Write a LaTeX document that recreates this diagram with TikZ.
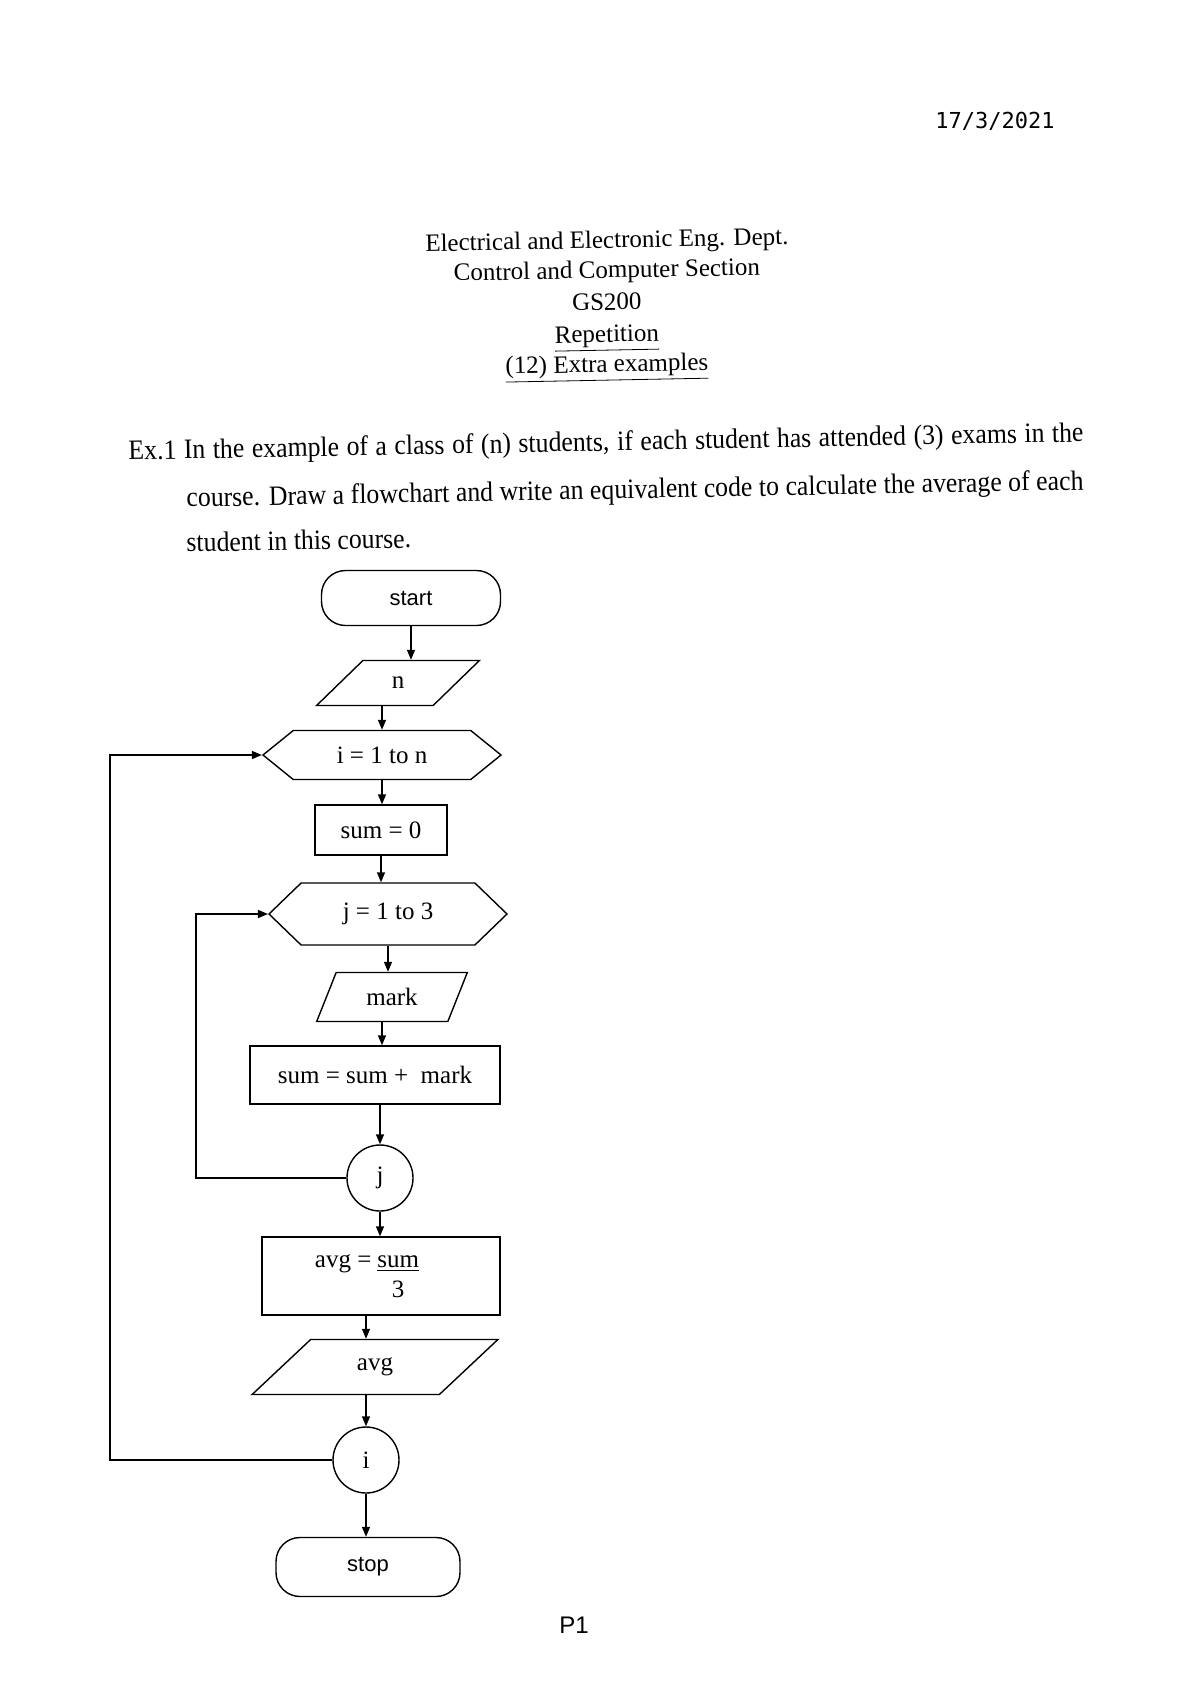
\documentclass[tikz,border=0pt]{standalone}
\usepackage{fontspec}
\setmainfont{Liberation Serif}
\setsansfont{Liberation Sans}
\setmonofont{DejaVu Sans Mono}
\newfontfamily\smalserif[FakeStretch=0.92]{Liberation Serif}
\usetikzlibrary{shapes.geometric, shapes.symbols, arrows.meta}

\newcommand{\kopfont}{\fontsize{12.5}{15}\selectfont}
\newcommand{\opgfont}{\smalserif\fontsize{14}{17}\selectfont}
\newcommand{\schemafont}{\fontsize{12.5}{15}\selectfont}

\begin{document}
\begin{tikzpicture}[x=0.5pt, y=-0.5pt, line width=0.7pt,
    every node/.style={font=\schemafont},
    term/.style={draw, rectangle, rounded corners=12pt, inner sep=0pt, minimum height=27.5pt, font=\sffamily\fontsize{11}{13}\selectfont},
    io/.style={draw, trapezium, trapezium stretches=true, inner sep=0pt},
    lus/.style={draw, signal, signal to=east and west, inner sep=0pt},
    blok/.style={draw, rectangle, inner sep=0pt},
    knoop/.style={draw, circle, minimum size=33pt, inner sep=0pt},
    pijl/.style={-{Triangle[length=5pt, width=4pt]}}]
    \useasboundingbox (0,0) rectangle (1200,1698);
    % datum
    \node[font=\ttfamily\fontsize{11}{13}\selectfont] (datum) at (995,121) {17/3/2021};
    % kop
    \node[font=\kopfont, anchor=base, rotate=1.1] (dept) at (607,248) {Electrical and Electronic Eng. Dept.};
    \node[font=\kopfont, anchor=base, rotate=1.1] (sectie) at (607,278) {Control and Computer Section};
    \node[font=\kopfont, anchor=base, rotate=1.1] (vak) at (607,310) {GS200};
    \node[font=\kopfont, anchor=base, rotate=1.1] (onderwerp) at (607,342) {\underline{Repetition}};
    \node[font=\kopfont, anchor=base, rotate=1.1] (extra) at (607,372) {\underline{(12) Extra examples}};
    % opgave
    \node[font=\opgfont, anchor=base west, rotate=1.1, inner sep=0pt] (regel1) at (128,460)
        {\makebox[477.5pt][s]{Ex.1 In the example of a class of (n) students, if each student has attended (3) exams in the}};
    \node[font=\opgfont, anchor=base west, rotate=1.1, inner sep=0pt] (regel2) at (186,507)
        {\makebox[448.5pt][s]{course. Draw a flowchart and write an equivalent code to calculate the average of each}};
    \node[font=\opgfont, anchor=base west, rotate=1.1, inner sep=0pt] (regel3) at (186,552) {student in this course.};
    % stroomschema
    \node[term, minimum width=89.5pt] (start) at (411,598) {start};
    \node[io, trapezium left angle=55, trapezium right angle=125, minimum width=81.5pt, minimum height=22.5pt] (n) at (398,683) {n};
    \node[lus, signal pointer angle=78, minimum width=119pt, minimum height=24.5pt] (iloop) at (382,755) {i = 1 to n};
    \node[blok, minimum width=66pt, minimum height=25pt] (sum0) at (381,830) {sum = 0};
    \node[lus, signal pointer angle=88, minimum width=119pt, minimum height=31pt] (jloop) at (388,914) {j = 1 to 3};
    \node[io, trapezium left angle=63, trapezium right angle=117, minimum width=75.5pt, minimum height=24.5pt] (mark) at (392,997) {mark};
    \node[blok, minimum width=125pt, minimum height=29pt] (acc) at (375,1075) {sum = sum +\ \ mark};
    \node[knoop] (jend) at (380,1178) {j};
    \node[blok, minimum width=119pt, minimum height=39pt] (avg) at (381,1276)
        {\hspace*{-14pt}\begin{tabular}{@{}l@{\hspace{3pt}}c@{}}avg = & \underline{sum}\\ & 3\end{tabular}};
    \node[io, trapezium left angle=48, trapezium right angle=132, minimum width=123pt, minimum height=27.5pt] (out) at (375,1367) {avg};
    \node[knoop] (iend) at (366,1460) {i};
    \node[term, minimum width=92pt, minimum height=29.5pt] (stop) at (368,1567) {stop};
    % pijlen
    \foreach \van/\naar in {start.south/n, iloop.south/sum0, sum0.south/jloop, jloop.south/mark, mark.bottom side/acc, jend.south/avg}
        \draw[pijl] (\van) -- (\van |- \naar.north);
    \draw[pijl] (n.south -| iloop) -- (iloop.north);
    \draw[pijl] (acc.south -| jend) -- (jend.north);
    \draw[pijl] (avg.south -| iend) -- (out.north -| iend);
    \draw[pijl] (out.south -| iend) -- (iend.north);
    \draw[pijl] (iend.south) -- (stop.north -| iend);
    % lussen terug
    \coordinate (jback) at (196,1178);
    \coordinate (iback) at (110,1460);
    \draw[pijl] (jend.west) -- (jback) |- (jloop.west);
    \draw[pijl] (iend.west) -- (iback) |- (iloop.west);
    % pagina
    \node[font=\sffamily\fontsize{12}{14}\selectfont] (pagina) at (574,1625) {P1};
\end{tikzpicture}
\end{document}
